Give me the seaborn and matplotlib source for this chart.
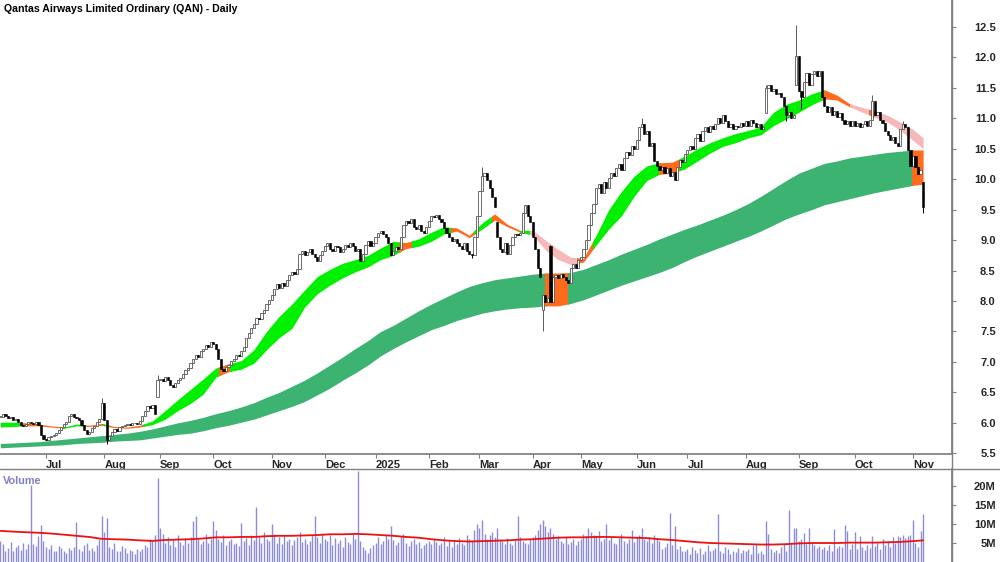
import numpy as np
import pandas as pd
import matplotlib
matplotlib.use("Agg")
import matplotlib.pyplot as plt
from matplotlib.patches import Rectangle
from matplotlib.lines import Line2D
import seaborn as sns

# ASX trading calendar
asx_holidays = ["2024-06-10", "2024-12-25", "2024-12-26", "2025-01-01", "2025-01-27",
                "2025-04-18", "2025-04-21", "2025-04-25", "2025-06-09"]
dates = pd.bdate_range("2024-06-04", "2025-11-07", freq="C", holidays=asx_holidays)

# daily closes, month by month
closes = (
    [6.10, 6.14, 6.12, 6.08, 6.10, 6.05, 6.07, 6.02, 5.97, 5.95, 5.98, 6.02, 6.00, 5.98, 6.01, 5.97, 5.80, 5.74]
    + [5.72, 5.76, 5.78, 5.80, 5.84, 5.88, 5.93, 5.98, 6.02, 6.12, 6.14, 6.10, 6.08, 6.04, 5.97, 5.88, 5.82,
       5.85, 5.92, 5.95, 6.02, 6.06, 6.32]
    + [6.05, 5.72, 5.78, 5.85, 5.90, 5.87, 5.93, 5.95, 5.97, 5.98, 5.96, 5.99, 6.00, 5.98, 6.03, 6.12, 6.20,
       6.27, 6.24, 6.30, 6.15, 6.70]
    + [6.72, 6.68, 6.75, 6.70, 6.62, 6.58, 6.65, 6.70, 6.74, 6.80, 6.86, 6.90, 6.98, 7.05, 7.12, 7.08, 7.18,
       7.22, 7.28, 7.25, 7.32]
    + [7.30, 7.22, 7.05, 6.88, 6.85, 6.92, 6.95, 7.02, 7.05, 7.12, 7.10, 7.18, 7.25, 7.40, 7.48, 7.55, 7.62,
       7.72, 7.70, 7.80, 7.85, 7.95, 8.02]
    + [8.10, 8.20, 8.28, 8.22, 8.30, 8.25, 8.35, 8.42, 8.48, 8.45, 8.52, 8.78, 8.82, 8.75, 8.80, 8.86, 8.78,
       8.72, 8.65, 8.75, 8.82]
    + [8.90, 8.95, 8.85, 8.82, 8.90, 8.88, 8.80, 8.85, 8.92, 8.88, 8.95, 8.90, 8.82, 8.86, 8.65, 8.78, 8.92,
       8.98, 8.90, 8.95]
    + [9.05, 9.12, 9.15, 9.10, 9.05, 8.95, 8.75, 8.82, 8.88, 8.86, 9.05, 9.25, 9.32, 9.28, 9.35, 9.22, 9.18,
       9.25, 9.15, 9.12, 9.22]
    + [9.32, 9.40, 9.38, 9.42, 9.35, 9.30, 9.20, 9.12, 9.05, 8.98, 9.02, 8.95, 8.90, 8.85, 8.95, 8.82, 8.78,
       8.75, 9.05, 9.40]
    + [9.80, 10.05, 10.10, 9.98, 9.85, 9.70, 9.55, 9.05, 8.85, 8.80, 8.95, 8.78, 8.92, 9.05, 9.10, 9.08, 9.12,
       9.45, 9.58, 9.40, 9.30]
    + [9.05, 8.85, 8.55, 8.40, 8.10, 7.98, 8.05, 7.98, 8.40, 8.42, 8.38, 8.45, 8.40, 8.35, 8.30, 8.55, 8.60,
       8.55, 8.68]
    + [8.72, 8.85, 9.00, 9.25, 9.45, 9.60, 9.85, 9.92, 9.78, 9.95, 9.85, 10.02, 10.10, 10.05, 10.18, 10.25,
       10.15, 10.35, 10.45, 10.40, 10.55, 10.50]
    + [10.65, 10.85, 10.90, 10.75, 10.80, 10.55, 10.60, 10.30, 10.22, 10.15, 10.20, 10.10, 10.18, 10.05,
       10.12, 9.98, 10.20, 10.32, 10.28, 10.42]
    + [10.48, 10.55, 10.50, 10.68, 10.75, 10.62, 10.80, 10.85, 10.78, 10.88, 10.82, 10.90, 11.00, 10.92,
       11.05, 10.95, 10.85, 10.90, 10.82, 10.88, 10.85, 10.92, 10.88]
    + [10.95, 10.88, 10.98, 10.92, 10.85, 10.90, 10.82, 10.85, 11.50, 11.55, 11.45, 11.48, 11.40, 11.42,
       11.35, 11.20, 11.05, 11.10, 11.00, 11.05, 12.02]
    + [11.45, 11.35, 11.60, 11.75, 11.55, 11.72, 11.78, 11.70, 11.78, 11.35, 11.20, 11.10, 11.18, 11.05,
       11.12, 11.02, 11.08, 10.98, 10.90, 10.95, 10.88, 10.95]
    + [10.88, 10.92, 10.85, 10.90, 10.95, 10.88, 10.98, 11.28, 11.05, 11.10, 10.98, 10.92, 10.80, 10.72,
       10.65, 10.70, 10.60, 10.55, 10.82, 10.90, 10.85, 10.48, 10.22]
    + [10.38, 10.20, 10.08, 10.15, 9.55]
)

# opening gaps and long wicks (bar number: price)
gap_opens = {62: 6.42, 196: 9.30, 214: 7.85, 217: 8.90, 302: 11.08, 314: 11.55, 364: 9.95}
wick_highs = {40: 6.40, 62: 6.78, 190: 10.20, 217: 8.92, 253: 11.00, 302: 11.55, 314: 12.53,
              344: 11.38, 356: 10.95}
wick_lows = {42: 5.65, 186: 8.70, 214: 7.50, 310: 10.95, 316: 11.15, 364: 9.45}

# daily volume, millions
volumes = (
    [5.5, 4.8, 3.0, 3.6, 5.2, 2.8, 4.0, 4.5, 3.2, 5.0, 3.5, 4.8, 20.3, 4.8, 4.2, 6.8, 9.7, 5.5]
    + [4.0, 3.5, 4.5, 2.8, 3.0, 4.2, 3.6, 3.0, 2.5, 3.8, 3.2, 4.0, 10.5, 3.5, 2.8, 4.5, 5.0, 3.2, 3.8, 3.0,
       4.5, 6.0, 12.0]
    + [8.0, 11.5, 4.0, 3.5, 5.0, 3.0, 2.8, 4.2, 3.6, 2.5, 3.2, 3.0, 2.2, 3.5, 2.8, 3.4, 4.5, 4.0, 6.0, 5.5,
       7.0, 22.0]
    + [9.0, 7.5, 5.0, 6.5, 4.5, 5.8, 4.0, 7.0, 5.2, 4.4, 6.2, 5.0, 6.5, 10.8, 12.0, 6.0, 4.8, 5.5, 7.5, 5.0, 6.0]
    + [10.8, 8.5, 6.0, 5.2, 7.0, 4.5, 5.5, 6.0, 4.8, 5.0, 4.2, 10.3, 5.5, 6.2, 4.5, 7.2, 5.8, 14.5, 6.5, 5.0,
       7.8, 6.0, 5.5]
    + [10.0, 7.5, 5.0, 6.5, 4.8, 7.2, 5.5, 6.0, 4.5, 5.8, 6.5, 8.0, 5.2, 6.0, 4.8, 5.5, 7.0, 12.0, 6.5, 5.0, 7.5]
    + [6.0, 5.5, 7.0, 4.5, 6.2, 5.0, 5.8, 4.0, 6.5, 5.2, 4.8, 7.5, 6.0, 24.0, 5.5, 4.0, 3.2, 2.5, 3.8, 4.5]
    + [5.0, 6.5, 4.8, 5.5, 7.0, 6.0, 9.5, 5.8, 4.5, 5.2, 6.8, 7.5, 5.0, 4.2, 5.5, 6.0, 4.8, 5.2, 3.8, 4.5, 5.0]
    + [5.5, 4.8, 6.0, 5.2, 4.5, 5.0, 6.5, 4.2, 5.8, 4.0, 5.5, 4.8, 6.2, 5.0, 4.5, 7.0, 6.0, 5.5, 8.5, 10.0]
    + [9.0, 11.0, 7.5, 6.0, 7.2, 8.0, 6.5, 9.0, 6.0, 5.5, 4.8, 6.2, 5.0, 4.5, 5.8, 12.0, 6.5, 5.5, 5.0, 4.8, 6.0]
    + [6.5, 7.0, 8.5, 10.0, 11.0, 9.5, 8.0, 9.0, 7.5, 6.0, 6.8, 5.5, 5.0, 6.5, 4.8, 5.2, 6.0, 4.5, 5.5]
    + [6.0, 7.5, 6.8, 9.0, 8.0, 7.0, 6.5, 8.2, 5.5, 6.0, 10.0, 5.8, 6.5, 5.0, 4.8, 6.2, 7.5, 5.5, 5.0, 6.0,
       8.5, 5.2]
    + [6.5, 7.0, 9.0, 6.0, 5.5, 6.5, 5.0, 7.0, 6.0, 5.5, 3.5, 4.0, 5.0, 13.0, 4.5, 9.5, 3.5, 4.2, 3.0, 2.8]
    + [3.5, 2.2, 4.0, 3.2, 2.5, 3.8, 2.0, 3.0, 4.5, 2.8, 3.2, 3.6, 12.6, 3.0, 2.5, 4.0, 3.5, 2.2, 3.0, 2.6,
       3.8, 2.5, 3.2]
    + [2.8, 3.5, 2.2, 4.5, 4.8, 2.5, 3.0, 2.0, 10.8, 7.4, 3.5, 2.6, 3.2, 2.4, 4.0, 4.8, 3.0, 13.7, 5.0, 8.9, 8.9]
    + [5.5, 6.0, 7.6, 4.8, 8.9, 5.0, 4.5, 3.8, 4.2, 3.5, 4.0, 3.2, 4.5, 3.0, 8.7, 3.8, 4.2, 4.0, 9.7, 8.1,
       3.5, 4.8]
    + [7.9, 3.5, 6.9, 4.0, 3.2, 4.5, 3.8, 6.8, 4.2, 5.0, 3.5, 6.0, 4.5, 5.5, 4.0, 6.5, 5.0, 6.9, 6.5, 7.0,
       6.2, 6.9, 7.0]
    + [11.0, 5.0, 4.0, 8.1, 12.6]
)

# ribbons and volume average, sampled every 5th bar
rib_days = list(range(0, 361, 5)) + [364]
fast_top = [6.01, 6.01, 6.00, 5.98, 5.95, 5.93, 5.98, 5.96, 5.99, 5.94, 5.93, 5.96, 6.03, 6.20, 6.38,
            6.55, 6.72, 6.90, 6.97, 7.02, 7.20, 7.50, 7.75, 7.95, 8.18, 8.40, 8.52, 8.62, 8.68, 8.75,
            8.87, 8.98, 8.96, 9.02, 9.13, 9.22, 9.20, 9.08, 9.28, 9.43, 9.26, 9.16, 9.16, 9.00, 8.85,
            8.72, 8.70, 9.08, 9.50, 9.80, 10.05, 10.22, 10.27, 10.28, 10.38, 10.50, 10.60, 10.68,
            10.75, 10.80, 10.86, 11.10, 11.23, 11.30, 11.40, 11.47, 11.38, 11.24, 11.18, 11.12,
            11.05, 10.94, 10.82, 10.68]
fast_bot = [5.93, 5.94, 5.95, 5.95, 5.93, 5.91, 5.95, 5.94, 5.96, 5.92, 5.91, 5.93, 5.97, 6.06, 6.20,
            6.32, 6.47, 6.75, 6.84, 6.88, 6.98, 7.20, 7.40, 7.55, 7.90, 8.12, 8.26, 8.38, 8.48, 8.56,
            8.68, 8.75, 8.86, 8.90, 8.98, 9.10, 9.15, 9.04, 9.18, 9.33, 9.22, 9.13, 9.08, 8.84, 8.68,
            8.60, 8.64, 8.92, 9.18, 9.40, 9.72, 9.98, 10.08, 10.10, 10.17, 10.30, 10.43, 10.54,
            10.60, 10.68, 10.73, 10.88, 10.99, 11.10, 11.22, 11.32, 11.30, 11.19, 11.10, 11.02,
            10.94, 10.80, 10.64, 10.50]
slow_top = [5.66, 5.67, 5.68, 5.69, 5.71, 5.73, 5.75, 5.77, 5.79, 5.81, 5.83, 5.86, 5.90, 5.95, 6.00,
            6.04, 6.09, 6.15, 6.20, 6.26, 6.33, 6.42, 6.50, 6.60, 6.70, 6.82, 6.95, 7.08, 7.22, 7.35,
            7.50, 7.60, 7.72, 7.84, 7.95, 8.05, 8.15, 8.24, 8.30, 8.35, 8.38, 8.41, 8.44, 8.46, 8.46,
            8.47, 8.52, 8.60, 8.68, 8.77, 8.85, 8.93, 9.02, 9.10, 9.18, 9.25, 9.33, 9.41, 9.50, 9.60,
            9.72, 9.85, 9.98, 10.10, 10.18, 10.26, 10.30, 10.35, 10.38, 10.41, 10.44, 10.46, 10.48,
            10.48]
slow_bot = [5.59, 5.60, 5.61, 5.62, 5.63, 5.64, 5.66, 5.67, 5.68, 5.70, 5.71, 5.72, 5.75, 5.78, 5.81,
            5.83, 5.87, 5.92, 5.96, 6.01, 6.06, 6.13, 6.20, 6.27, 6.35, 6.46, 6.57, 6.70, 6.82, 6.95,
            7.10, 7.22, 7.33, 7.43, 7.53, 7.60, 7.68, 7.74, 7.80, 7.84, 7.87, 7.89, 7.90, 7.92, 7.92,
            7.96, 8.02, 8.10, 8.18, 8.26, 8.33, 8.40, 8.47, 8.55, 8.65, 8.74, 8.82, 8.90, 8.98, 9.06,
            9.15, 9.25, 9.35, 9.43, 9.50, 9.58, 9.63, 9.68, 9.73, 9.78, 9.82, 9.86, 9.90, 9.92]
vol_avg = [8.2, 8.0, 7.85, 7.7, 7.5, 7.2, 6.9, 6.6, 6.1, 6.0, 5.9, 5.7, 5.55, 5.8, 5.9, 6.0, 6.2, 6.5,
           6.5, 6.6, 6.6, 6.8, 6.9, 6.9, 7.0, 7.1, 7.3, 7.3, 7.4, 7.3, 7.1, 6.9, 6.6, 6.4, 6.0, 5.7,
           5.5, 5.4, 5.5, 5.6, 5.7, 5.9, 6.0, 6.2, 6.4, 6.5, 6.5, 6.6, 6.6, 6.5, 6.4, 6.3, 6.0, 5.8,
           5.5, 5.2, 5.0, 4.9, 4.8, 4.7, 4.6, 4.6, 4.7, 4.9, 5.0, 5.0, 5.0, 5.1, 5.1, 5.1, 5.2, 5.3,
           5.5, 5.7]

# ribbon trend phases: (first bar, last bar, state)
fast_phases = [(0, 8.5, "up"), (8.5, 24.7, "mixed"), (24.7, 32.2, "up"), (32.2, 40.5, "mixed"),
               (40.5, 43.2, "up"), (43.2, 56.3, "mixed"), (56.3, 86.6, "up"), (86.6, 90.6, "mixed"),
               (90.6, 157.6, "up"), (157.6, 162.4, "mixed"), (162.4, 178.1, "up"),
               (178.1, 187.2, "mixed"), (187.2, 194.3, "up"), (194.3, 205, "mixed"), (205, 209, "up"),
               (209, 227.5, "down"), (227.5, 233.8, "mixed"), (233.8, 260.2, "up"),
               (260.2, 268.1, "mixed"), (268.1, 324.5, "up"), (324.5, 335.2, "mixed"),
               (335.2, 343, "down"), (343, 345.4, "mixed"), (345.4, 364.5, "down")]
slow_phases = [(0, 215.2, "up"), (215.2, 224.3, "mixed"), (224.3, 360, "up"), (360, 364.5, "mixed")]

fast_colors = {"up": "#00f000", "mixed": "#ff6a1c", "down": "#f6b8b8"}
slow_colors = {"up": "#3cb371", "mixed": "#ff6a1c"}

sns.set_theme(style="white")
plt.rcParams["font.family"] = ["Liberation Sans", "DejaVu Sans"]
plt.rcParams["font.weight"] = "bold"

fig = plt.figure(figsize=(10, 5.62), dpi=100)
ax = fig.add_axes([0, 108 / 562, 0.952, 454 / 562])
axv = fig.add_axes([0, 0, 0.952, 93 / 562])

n = len(closes)
bars = np.arange(n)
close = np.array(closes)
open_ = np.r_[close[0], close[:-1]]
for k, v in gap_opens.items():
    open_[k] = v
high = np.maximum(open_, close)
low = np.minimum(open_, close)
for k, v in wick_highs.items():
    high[k] = max(high[k], v)
for k, v in wick_lows.items():
    low[k] = min(low[k], v)


def draw_ribbon(top, bot, phases, colors):
    for start, end, state in phases:
        band = ax.fill_between(rib_days, bot, top, color=colors[state], lw=0, zorder=1)
        band.set_clip_path(Rectangle((start - 0.2, 0), end - start + 0.4, 20, transform=ax.transData))


draw_ribbon(slow_top, slow_bot, slow_phases, slow_colors)
draw_ribbon(fast_top, fast_bot, fast_phases, fast_colors)

# candles
up = close >= open_
ax.vlines(bars, low, high, color=np.where(up, "#5a5a5a", "black"), lw=0.7, zorder=2)
body = np.maximum(np.abs(close - open_), 0.015)
ax.bar(bars[up], body[up], bottom=open_[up], width=0.85, color="white",
       edgecolor="#555555", lw=0.6, zorder=3)
ax.bar(bars[~up], body[~up], bottom=close[~up], width=0.85, color="black",
       edgecolor="black", lw=0.4, zorder=3)

# volume
vol = np.array(volumes)
axv.vlines(bars, 0, vol, color="#8c8cd8", lw=1.0)
sns.lineplot(x=rib_days, y=vol_avg, ax=axv, color="#ee1111", lw=1.3)

xmax = 375.4
for a in (ax, axv):
    a.set_xlim(-0.16, xmax)
    a.set_facecolor("white")
    for s in ("left", "top", "bottom", "right"):
        a.spines[s].set_visible(False)
    a.spines["right"].set_visible(True)
    a.spines["right"].set_color("#808080")
    a.yaxis.tick_right()
    a.tick_params(axis="y", direction="out", length=3, width=0.8, color="#808080",
                  labelsize=8, pad=28.5, right=True, labelright=True, left=False, labelleft=False)

ax.spines["bottom"].set_visible(True)
ax.spines["bottom"].set_color("#808080")

ax.set_ylim(5.488, 12.943)
price_ticks = [5.5, 6.0, 6.5, 7.0, 7.5, 8.0, 8.5, 9.0, 9.5, 10.0, 10.5, 11.0, 11.5, 12.0, 12.5]
ax.set_yticks(price_ticks)
ax.set_yticklabels([f"{t:.1f}" for t in price_ticks])

axv.set_ylim(0, 24.5)
axv.set_yticks([5, 10, 15, 20])
axv.set_yticklabels(["5M", "10M", "15M", "20M"])
axv.set_xticks([])

for a in (ax, axv):
    for lab in a.get_yticklabels():
        lab.set_horizontalalignment("right")
        lab.set_fontweight("bold")

# month ticks
months = pd.Series(dates.month)
month_starts = [i for i in range(1, n) if months[i] != months[i - 1]]
month_labels = ["2025" if dates[i].month == 1 else dates[i].strftime("%b") for i in month_starts]
ax.set_xticks(month_starts)
ax.set_xticklabels(month_labels, ha="left", fontweight="bold")
ax.tick_params(axis="x", direction="out", length=3, width=0.8, color="#808080",
               labelsize=8, pad=1.0, bottom=True)

ax.set_xlabel("")
ax.set_ylabel("")
axv.set_xlabel("")
axv.set_ylabel("")

# frame lines
fig.add_artist(Line2D([0, 1], [93 / 562, 93 / 562], color="#808080", lw=1.0))
fig.add_artist(Line2D([0.952, 0.952], [0, 1], color="#808080", lw=1.0))

fig.text(0.004, 0.993, "Qantas Airways Limited Ordinary (QAN) - Daily", ha="left", va="top",
         fontsize=7.6, fontweight="bold", color="black")
axv.text(0.003, 0.93, "Volume", transform=axv.transAxes, ha="left", va="top",
         fontsize=7.8, fontweight="bold", color="#8080c4")

fig.savefig("out.png", dpi=100)
